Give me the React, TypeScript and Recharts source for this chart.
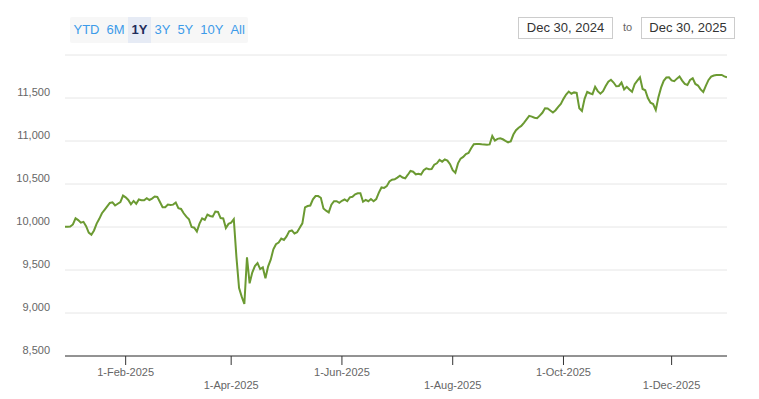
import React from "react";
import { LineChart, Line, XAxis, YAxis, CartesianGrid } from "recharts";

// Daily closing values, one per trading day (Dec 30, 2024 -> Dec 30, 2025)
const closes: number[] = [
  10003, 10003, 10005, 10030, 10101, 10080, 10050, 10060, 10010, 9935,
  9910, 9960, 10040, 10095, 10160, 10200, 10240, 10280, 10287, 10250,
  10270, 10290, 10365, 10345, 10314, 10264, 10303, 10270, 10320, 10311,
  10310, 10335, 10314, 10330, 10354, 10350, 10290, 10230, 10230, 10262,
  10256, 10260, 10285, 10220, 10210, 10160, 10120, 10090, 10000, 9992,
  9948, 10040, 10100, 10083, 10145, 10128, 10120, 10180, 10175, 10104,
  10100, 9988, 10036, 10050, 10090, 9650, 9290, 9190, 9105, 9648,
  9345, 9470, 9545, 9580, 9510, 9530, 9403, 9540, 9620, 9740,
  9800, 9820, 9865, 9850, 9890, 9950, 9960, 9925, 9940, 9990,
  10043, 10229, 10244, 10250, 10322, 10360, 10360, 10340, 10215, 10190,
  10170, 10260, 10300, 10300, 10282, 10305, 10320, 10300, 10345, 10352,
  10380, 10392, 10392, 10294, 10315, 10300, 10325, 10300, 10325, 10400,
  10460, 10455, 10475, 10530, 10550, 10555, 10575, 10597, 10575, 10566,
  10608, 10652, 10643, 10613, 10620, 10610, 10660, 10682, 10672, 10674,
  10725, 10741, 10780, 10760, 10785, 10772, 10730, 10660, 10630, 10740,
  10795, 10815, 10848, 10860, 10915, 10962, 10965, 10965, 10962, 10960,
  10957, 10960, 11058, 11005, 11025, 11031, 11020, 11002, 10985, 10995,
  11075, 11125, 11155, 11175, 11212, 11252, 11292, 11283, 11270, 11265,
  11295, 11328, 11380, 11378, 11355, 11332, 11358, 11398, 11432, 11490,
  11540, 11575, 11550, 11565, 11560, 11380, 11350, 11490, 11570, 11555,
  11545, 11630, 11580, 11550, 11580, 11640, 11690, 11712, 11680, 11636,
  11640, 11680, 11600, 11630, 11600, 11572, 11660, 11701, 11740, 11605,
  11590, 11500, 11445, 11430, 11360, 11510, 11620, 11700, 11738, 11740,
  11705, 11695, 11725, 11750, 11703, 11665, 11652, 11710, 11729, 11663,
  11645, 11600, 11570, 11645, 11710, 11748, 11762, 11768, 11768, 11768,
  11752, 11740,
];

// X-axis ticks (trading-day index of month starts) and their labels
const tickDays: number[] = [23, 63, 105, 147, 189, 230];
const tickLabels: string[] = [
  "1-Feb-2025",
  "1-Apr-2025",
  "1-Jun-2025",
  "1-Aug-2025",
  "1-Oct-2025",
  "1-Dec-2025",
];

const yTicks: number[] = [8500, 9000, 9500, 10000, 10500, 11000, 11500];
const yDomain: number[] = [8500, 12000];

const rangeButtons: string[] = ["YTD", "6M", "1Y", "3Y", "5Y", "10Y", "All"];
const selectedRange = "1Y";
const fromDate = "Dec 30, 2024";
const toDate = "Dec 30, 2025";

const data = closes.map((v, i) => ({ day: i, close: v }));

const FONT = '"Liberation Sans", Arial, Helvetica, sans-serif';

const XTick = (props: any) => {
  const { x, y, payload, index } = props;
  const i = tickDays.indexOf(payload.value);
  const label = i >= 0 ? tickLabels[i] : "";
  const row = index % 2 === 0 ? 11 : 24.3;
  return (
    <text
      x={x}
      y={y + row}
      textAnchor="middle"
      fill="#666666"
      fontSize={11}
      fontFamily={FONT}
    >
      {label}
    </text>
  );
};

const YTick = (props: any) => {
  const { x, y, payload } = props;
  return (
    <text
      x={x}
      y={y - 2}
      textAnchor="end"
      fill="#666666"
      fontSize={11}
      fontFamily={FONT}
    >
      {Number(payload.value).toLocaleString("en-US")}
    </text>
  );
};

export default function App() {
  return (
    <div
      style={{
        position: "absolute",
        left: 0,
        top: 0,
        width: 759,
        height: 399,
        background: "#ffffff",
        fontFamily: FONT,
        overflow: "hidden",
      }}
    >
      <div
        style={{
          position: "absolute",
          left: 70,
          top: 17,
          height: 26,
          display: "flex",
          background: "#f7f7f7",
          borderRadius: 2,
        }}
      >
        {rangeButtons.map((b) => {
          const sel = b === selectedRange;
          return (
            <div
              key={b}
              style={{
                padding: "0 3.5px",
                height: 26,
                lineHeight: "26px",
                fontSize: 13,
                color: sel ? "#1f2d5c" : "#3d9be9",
                fontWeight: sel ? "bold" : "normal",
                background: sel ? "#e6ebf5" : "transparent",
              }}
            >
              {b}
            </div>
          );
        })}
      </div>

      <div
        style={{
          position: "absolute",
          left: 518,
          top: 17,
          width: 93,
          height: 20,
          border: "1px solid #cccccc",
          lineHeight: "20px",
          textAlign: "center",
          fontSize: 13,
          color: "#333333",
        }}
      >
        {fromDate}
      </div>
      <div
        style={{
          position: "absolute",
          left: 623,
          top: 17,
          height: 22,
          lineHeight: "20px",
          fontSize: 11,
          color: "#666666",
        }}
      >
        to
      </div>
      <div
        style={{
          position: "absolute",
          left: 641,
          top: 17,
          width: 92,
          height: 20,
          border: "1px solid #cccccc",
          lineHeight: "20px",
          textAlign: "center",
          fontSize: 13,
          color: "#333333",
        }}
      >
        {toDate}
      </div>

      <LineChart
        width={759}
        height={399}
        data={data}
        margin={{ top: 55, right: 32, bottom: 0, left: 0 }}
      >
        <CartesianGrid
          vertical={false}
          stroke="#e6e6e6"
          strokeWidth={1}
        />
        <XAxis
          dataKey="day"
          type="number"
          domain={[0, closes.length - 1]}
          ticks={tickDays}
          interval={0}
          height={43}
          tickSize={9}
          tickMargin={0}
          axisLine={{ stroke: "#333333", strokeWidth: 1 }}
          tickLine={{ stroke: "#333333", strokeWidth: 1 }}
          tick={<XTick />}
          allowDataOverflow
        />
        <YAxis
          type="number"
          domain={yDomain}
          ticks={yTicks}
          interval={0}
          width={65}
          axisLine={false}
          tickLine={false}
          tickSize={0}
          tickMargin={15}
          tick={<YTick />}
          allowDataOverflow
        />
        <Line
          type="linear"
          dataKey="close"
          stroke="#6b9a32"
          strokeWidth={2}
          dot={false}
          activeDot={false}
          isAnimationActive={false}
        />
      </LineChart>
    </div>
  );
}
